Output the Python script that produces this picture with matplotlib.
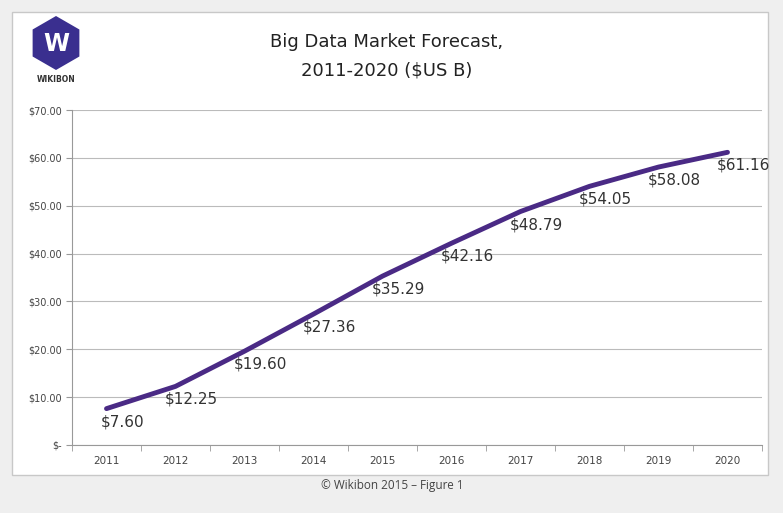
import matplotlib
matplotlib.use("Agg")
import matplotlib.pyplot as plt
from matplotlib.patches import Rectangle, RegularPolygon

years = ["2011","2012","2013","2014","2015","2016","2017","2018","2019","2020"]
values = [7.60, 12.25, 19.60, 27.36, 35.29, 42.16, 48.79, 54.05, 58.08, 61.16]
yticks = [0, 10, 20, 30, 40, 50, 60, 70]

W, H = 783, 513
fig = plt.figure(figsize=(W/100, H/100), dpi=100)
fig.patch.set_facecolor("#efefef")

bg = fig.add_axes([0, 0, 1, 1], zorder=0)
bg.set_xlim(0, W); bg.set_ylim(H, 0); bg.axis("off")
bg.add_patch(Rectangle((12, 12), 756, 463, facecolor="white", edgecolor="#c8c8c8", lw=1))
bg.add_patch(RegularPolygon((56, 43), 6, radius=27, facecolor="#3a2f8f", edgecolor="none"))
bg.text(56, 44, "W", color="white", fontsize=17, fontweight="bold", ha="center", va="center")
bg.text(56, 80, "WIKIBON", color="#333333", fontsize=5.5, fontweight="bold", ha="center", va="center")
bg.text(387, 42, "Big Data Market Forecast,", fontsize=13, ha="center", va="center", color="#222222")
bg.text(387, 71, "2011-2020 ($US B)", fontsize=13, ha="center", va="center", color="#222222")
bg.text(392, 486, "\u00a9 Wikibon 2015 \u2013 Figure 1", fontsize=8.5, ha="center", va="center",
        color="#444444", family="Open Sans")

ax = fig.add_axes([72/W, (H-445)/H, 690/W, 335/H], zorder=2)
x = list(range(len(years)))
ax.plot(x, values, color="#4a2a85", lw=3.5, solid_capstyle="round", zorder=3)
for xi, v in zip(x, values):
    ax.annotate(f"${v:.2f}", (xi, v), xytext=(16, -13), textcoords="offset pixels",
                ha="center", va="center", fontsize=11, color="#333333")
ax.set_xlim(-0.5, len(years)-0.5)
ax.set_ylim(0, 70)
ax.set_yticks(yticks)
ax.set_yticklabels(["$-" if t == 0 else f"${t:.2f}" for t in yticks], fontsize=7, color="#444444")
ax.set_xticks(x)
ax.set_xticklabels(years, fontsize=7.5, color="#444444")
ax.set_xticks([i-0.5 for i in range(len(years)+1)], minor=True)
ax.tick_params(axis="x", which="major", length=0, pad=8)
ax.tick_params(axis="x", which="minor", length=4, color="#999999")
ax.tick_params(axis="y", length=4, color="#999999")
ax.grid(axis="y", color="#bbbbbb", lw=0.8)
ax.set_axisbelow(True)
for s in ["top", "right"]:
    ax.spines[s].set_visible(False)
for s in ["left", "bottom"]:
    ax.spines[s].set_color("#999999")
ax.patch.set_alpha(0)
fig.savefig("out.png", dpi=100, facecolor=fig.get_facecolor())
